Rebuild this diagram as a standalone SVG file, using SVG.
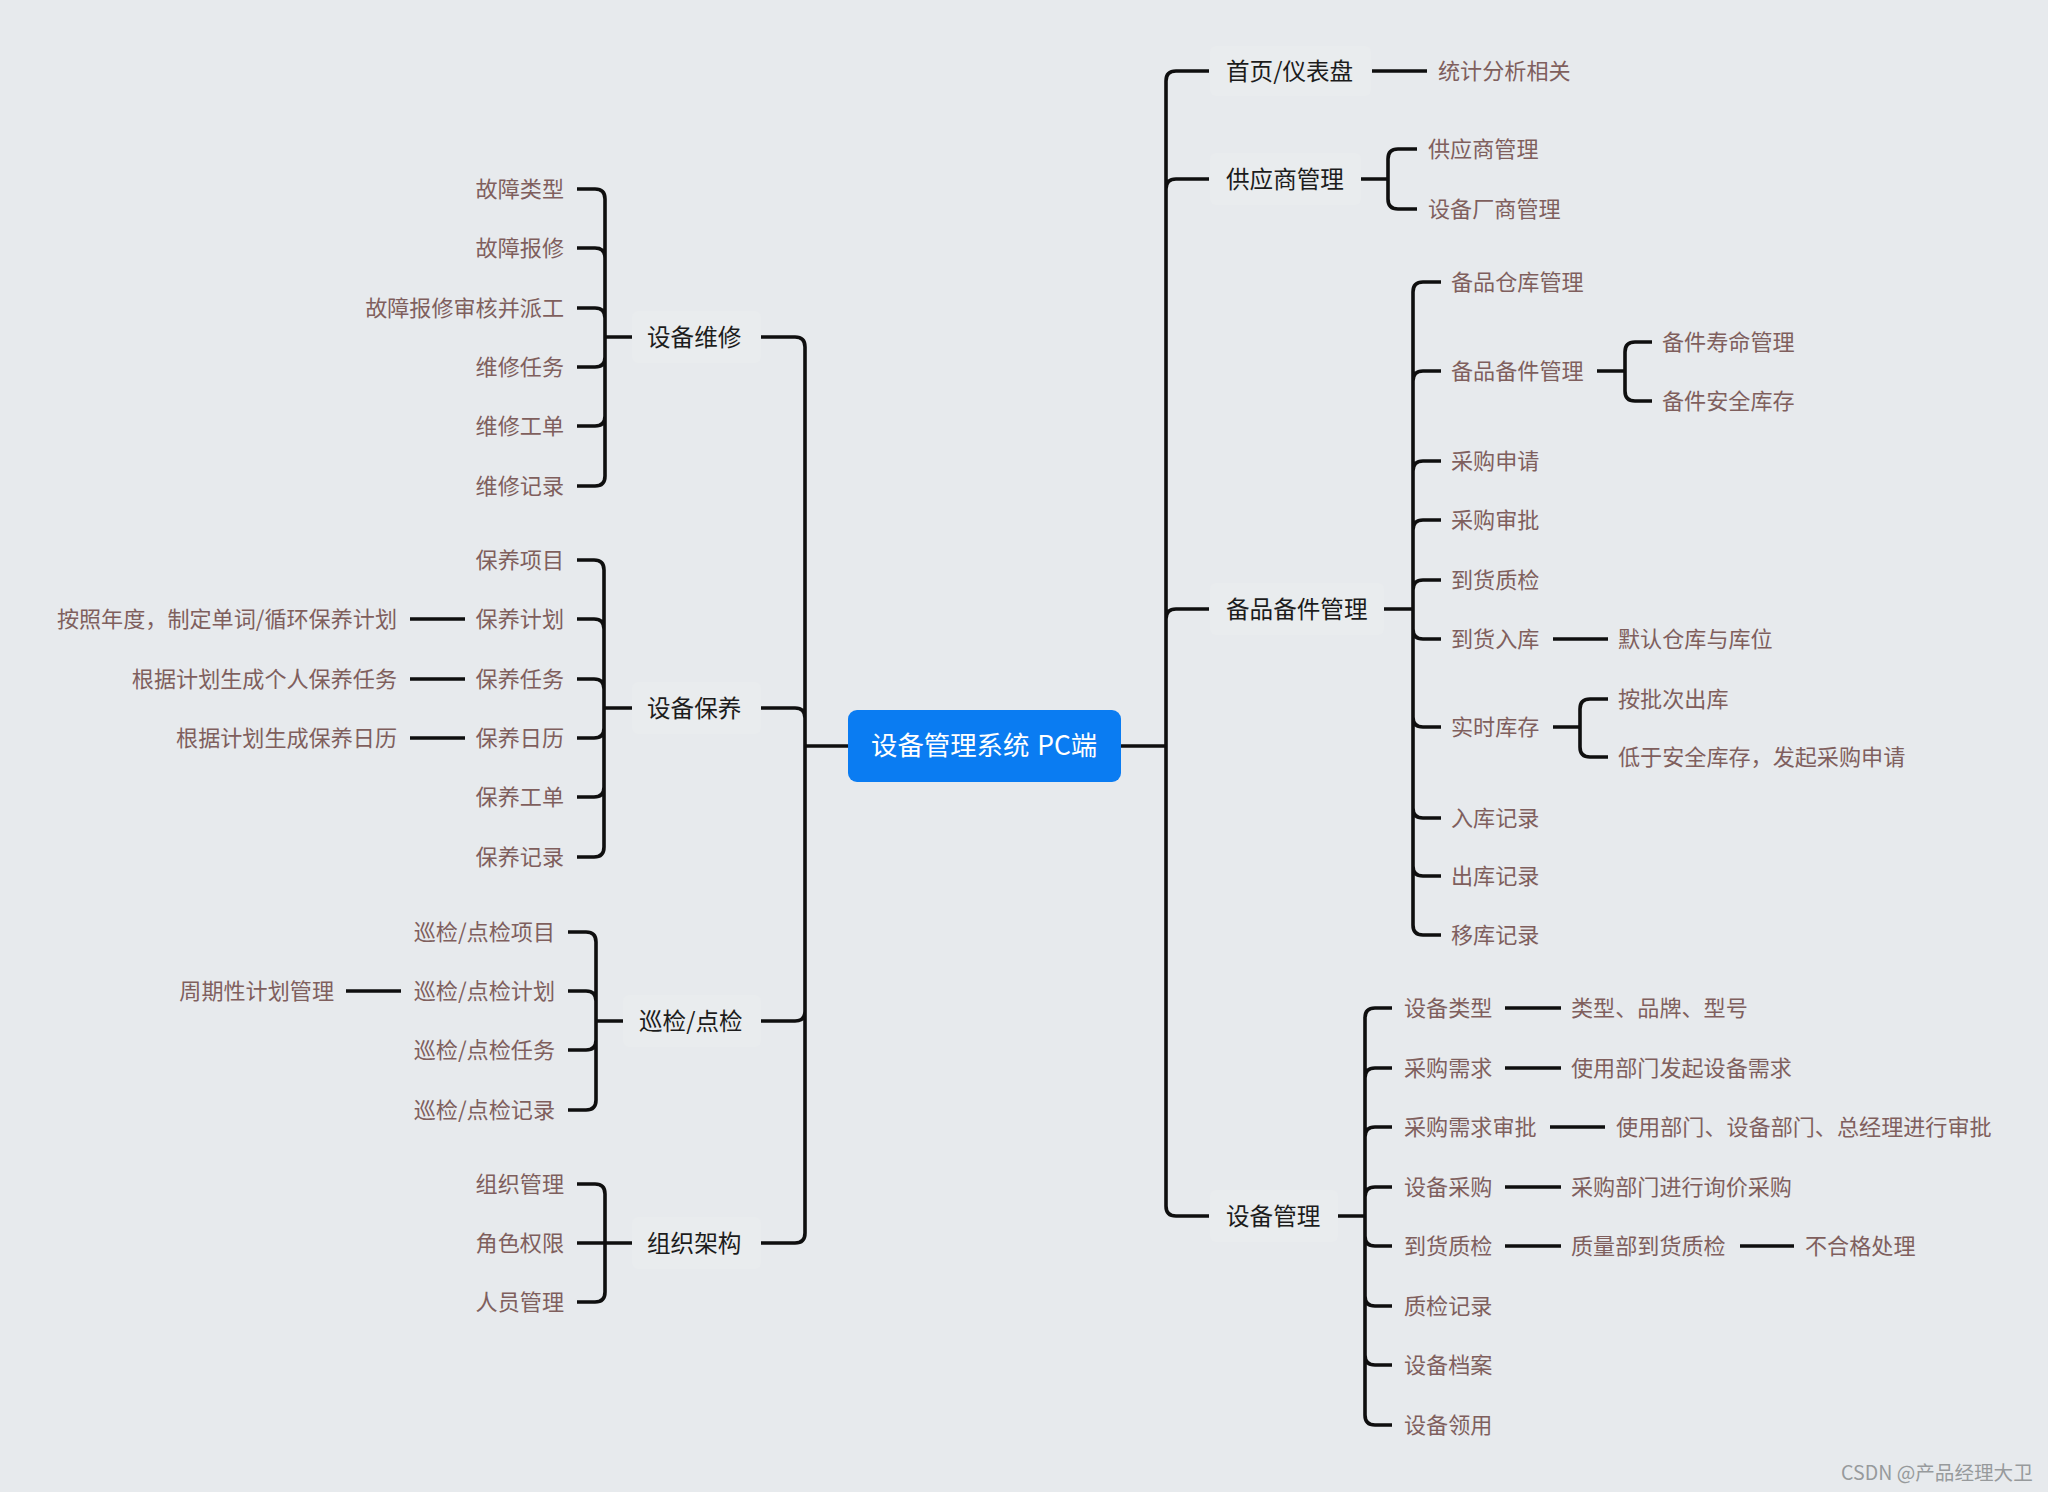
<svg xmlns="http://www.w3.org/2000/svg" width="2048" height="1492" viewBox="0 0 2048 1492">
<style>
text{font-family:"Noto Sans CJK SC","Microsoft YaHei","Noto Sans",sans-serif;dominant-baseline:central}
.t1{font-size:23.6px;fill:#1c1c1c;transform:translate(-1px,-0.5px)}
.t2{font-size:22.1px;fill:#7f5f5d;transform:translateY(-1.5px)}
.e{text-anchor:end}
.c path{fill:none;stroke:#0f0f0f;stroke-width:3.6;stroke-linecap:butt}
.b{fill:#e9ecee}
</style>
<rect width="2048" height="1492" fill="#e7eaed"/>
<g id="node-backgrounds">
<rect class="b" x="1210" y="46" width="161" height="50" rx="6"/>
<rect class="b" x="1210" y="153" width="151" height="52" rx="6"/>
<rect class="b" x="1210" y="583" width="174" height="52" rx="6"/>
<rect class="b" x="1210" y="1190" width="128" height="52" rx="6"/>
<rect class="b" x="632" y="311" width="129" height="52" rx="6"/>
<rect class="b" x="632" y="682" width="129" height="52" rx="6"/>
<rect class="b" x="623" y="995" width="138" height="52" rx="6"/>
<rect class="b" x="632" y="1217" width="129" height="52" rx="6"/>
</g>
<g class="c" id="connectors">
<path d="M1121 746H1166M1166 746V81Q1166 71 1176 71H1209M1166 746V189Q1166 179 1176 179H1209M1166 746V619Q1166 609 1176 609H1209M1166 746V1206Q1166 1216 1176 1216H1209"/>
<path d="M848 746H805M805 746V347Q805 337 795 337H761M805 746V718Q805 708 795 708H761M805 746V1011Q805 1021 795 1021H761M805 746V1233Q805 1243 795 1243H761"/>
<path d="M1372 71H1427"/>
<path d="M1361 179H1388M1388 179V159Q1388 149 1398 149H1417M1388 179V199Q1388 209 1398 209H1417"/>
<path d="M1384 609H1413M1413 609V292Q1413 282 1423 282H1441M1413 609V381Q1413 371 1423 371H1441M1413 609V471Q1413 461 1423 461H1441M1413 609V530Q1413 520 1423 520H1441M1413 609V590Q1413 580 1423 580H1441M1413 609V629Q1413 639 1423 639H1441M1413 609V717Q1413 727 1423 727H1441M1413 609V808Q1413 818 1423 818H1441M1413 609V866Q1413 876 1423 876H1441M1413 609V925Q1413 935 1423 935H1441"/>
<path d="M1597 371H1625M1625 371V352Q1625 342 1635 342H1652M1625 371V391Q1625 401 1635 401H1652"/>
<path d="M1553 639H1608"/>
<path d="M1553 727H1580M1580 727V709Q1580 699 1590 699H1608M1580 727V747Q1580 757 1590 757H1608"/>
<path d="M1338 1216H1365M1365 1216V1018Q1365 1008 1375 1008H1392M1365 1216V1078Q1365 1068 1375 1068H1392M1365 1216V1137Q1365 1127 1375 1127H1392M1365 1216V1197Q1365 1187 1375 1187H1392M1365 1216V1236Q1365 1246 1375 1246H1392M1365 1216V1296Q1365 1306 1375 1306H1392M1365 1216V1355Q1365 1365 1375 1365H1392M1365 1216V1415Q1365 1425 1375 1425H1392"/>
<path d="M1505 1008H1561M1505 1068H1561M1550 1127H1605M1505 1187H1561M1505 1246H1561M1740 1246H1794"/>
<path d="M632 337H605M605 337V199Q605 189 595 189H577M605 337V258Q605 248 595 248H577M605 337V318Q605 308 595 308H577M605 337V357Q605 367 595 367H577M605 337V416Q605 426 595 426H577M605 337V476Q605 486 595 486H577"/>
<path d="M632 708H604M604 708V570Q604 560 594 560H577M604 708V629Q604 619 594 619H577M604 708V689Q604 679 594 679H577M604 708V728Q604 738 594 738H577M604 708V787Q604 797 594 797H577M604 708V847Q604 857 594 857H577"/>
<path d="M465 619H410M465 679H410M465 738H410"/>
<path d="M623 1021H596M596 1021V942Q596 932 586 932H568M596 1021V1001Q596 991 586 991H568M596 1021V1040Q596 1050 586 1050H568M596 1021V1100Q596 1110 586 1110H568"/>
<path d="M401 991H346"/>
<path d="M632 1243H577M605 1243V1194Q605 1184 595 1184H577M605 1243V1292Q605 1302 595 1302H577"/>
</g>
<g id="root"><rect x="848" y="710" width="273" height="72" rx="9" fill="#0a7cf2"/><text x="871" y="743" font-size="26.4" word-spacing="2" fill="#fff">设备管理系统 PC端</text></g>
<g id="n-home"><text class="t1" x="1227" y="70">首页/仪表盘</text></g>
<g id="n-home-1"><text class="t2" x="1438" y="70">统计分析相关</text></g>
<g id="n-sup"><text class="t1" x="1227" y="178">供应商管理</text></g>
<g id="n-sup-1"><text class="t2" x="1428" y="148">供应商管理</text></g>
<g id="n-sup-2"><text class="t2" x="1428" y="208">设备厂商管理</text></g>
<g id="n-spare"><text class="t1" x="1227" y="608">备品备件管理</text></g>
<g id="n-spare-1"><text class="t2" x="1451" y="281">备品仓库管理</text></g>
<g id="n-spare-2"><text class="t2" x="1451" y="370">备品备件管理</text></g>
<g id="n-spare-2a"><text class="t2" x="1662" y="341">备件寿命管理</text></g>
<g id="n-spare-2b"><text class="t2" x="1662" y="400">备件安全库存</text></g>
<g id="n-spare-3"><text class="t2" x="1451" y="460">采购申请</text></g>
<g id="n-spare-4"><text class="t2" x="1451" y="519">采购审批</text></g>
<g id="n-spare-5"><text class="t2" x="1451" y="579">到货质检</text></g>
<g id="n-spare-6"><text class="t2" x="1451" y="638">到货入库</text></g>
<g id="n-spare-6a"><text class="t2" x="1618" y="638">默认仓库与库位</text></g>
<g id="n-spare-7"><text class="t2" x="1451" y="726">实时库存</text></g>
<g id="n-spare-7a"><text class="t2" x="1618" y="698">按批次出库</text></g>
<g id="n-spare-7b"><text class="t2" x="1618" y="756">低于安全库存，发起采购申请</text></g>
<g id="n-spare-8"><text class="t2" x="1451" y="817">入库记录</text></g>
<g id="n-spare-9"><text class="t2" x="1451" y="875">出库记录</text></g>
<g id="n-spare-10"><text class="t2" x="1451" y="934">移库记录</text></g>
<g id="n-eq"><text class="t1" x="1227" y="1215">设备管理</text></g>
<g id="n-eq-1"><text class="t2" x="1404" y="1007">设备类型</text></g>
<g id="n-eq-1a"><text class="t2" x="1571" y="1007">类型、品牌、型号</text></g>
<g id="n-eq-2"><text class="t2" x="1404" y="1067">采购需求</text></g>
<g id="n-eq-2a"><text class="t2" x="1571" y="1067">使用部门发起设备需求</text></g>
<g id="n-eq-3"><text class="t2" x="1404" y="1126">采购需求审批</text></g>
<g id="n-eq-3a"><text class="t2" x="1616" y="1126">使用部门、设备部门、总经理进行审批</text></g>
<g id="n-eq-4"><text class="t2" x="1404" y="1186">设备采购</text></g>
<g id="n-eq-4a"><text class="t2" x="1571" y="1186">采购部门进行询价采购</text></g>
<g id="n-eq-5"><text class="t2" x="1404" y="1245">到货质检</text></g>
<g id="n-eq-5a"><text class="t2" x="1571" y="1245">质量部到货质检</text></g>
<g id="n-eq-5b"><text class="t2" x="1805" y="1245">不合格处理</text></g>
<g id="n-eq-6"><text class="t2" x="1404" y="1305">质检记录</text></g>
<g id="n-eq-7"><text class="t2" x="1404" y="1364">设备档案</text></g>
<g id="n-eq-8"><text class="t2" x="1404" y="1424">设备领用</text></g>
<g id="n-rep"><text class="t1" x="648" y="336">设备维修</text></g>
<g id="n-rep-1"><text class="t2 e" x="564" y="188">故障类型</text></g>
<g id="n-rep-2"><text class="t2 e" x="564" y="247">故障报修</text></g>
<g id="n-rep-3"><text class="t2 e" x="564" y="307">故障报修审核并派工</text></g>
<g id="n-rep-4"><text class="t2 e" x="564" y="366">维修任务</text></g>
<g id="n-rep-5"><text class="t2 e" x="564" y="425">维修工单</text></g>
<g id="n-rep-6"><text class="t2 e" x="564" y="485">维修记录</text></g>
<g id="n-mnt"><text class="t1" x="648" y="707">设备保养</text></g>
<g id="n-mnt-1"><text class="t2 e" x="564" y="559">保养项目</text></g>
<g id="n-mnt-2"><text class="t2 e" x="564" y="618">保养计划</text></g>
<g id="n-mnt-2a"><text class="t2 e" x="397" y="618">按照年度，制定单词/循环保养计划</text></g>
<g id="n-mnt-3"><text class="t2 e" x="564" y="678">保养任务</text></g>
<g id="n-mnt-3a"><text class="t2 e" x="397" y="678">根据计划生成个人保养任务</text></g>
<g id="n-mnt-4"><text class="t2 e" x="564" y="737">保养日历</text></g>
<g id="n-mnt-4a"><text class="t2 e" x="397" y="737">根据计划生成保养日历</text></g>
<g id="n-mnt-5"><text class="t2 e" x="564" y="796">保养工单</text></g>
<g id="n-mnt-6"><text class="t2 e" x="564" y="856">保养记录</text></g>
<g id="n-ins"><text class="t1" x="640" y="1020">巡检/点检</text></g>
<g id="n-ins-1"><text class="t2 e" x="555" y="931">巡检/点检项目</text></g>
<g id="n-ins-2"><text class="t2 e" x="555" y="990">巡检/点检计划</text></g>
<g id="n-ins-2a"><text class="t2 e" x="334" y="990">周期性计划管理</text></g>
<g id="n-ins-3"><text class="t2 e" x="555" y="1049">巡检/点检任务</text></g>
<g id="n-ins-4"><text class="t2 e" x="555" y="1109">巡检/点检记录</text></g>
<g id="n-org"><text class="t1" x="648" y="1242">组织架构</text></g>
<g id="n-org-1"><text class="t2 e" x="564" y="1183">组织管理</text></g>
<g id="n-org-2"><text class="t2 e" x="564" y="1242">角色权限</text></g>
<g id="n-org-3"><text class="t2 e" x="564" y="1301">人员管理</text></g>
<text x="1841" y="1471" font-size="19.6" fill="#979a9c">CSDN @产品经理大卫</text>
</svg>
